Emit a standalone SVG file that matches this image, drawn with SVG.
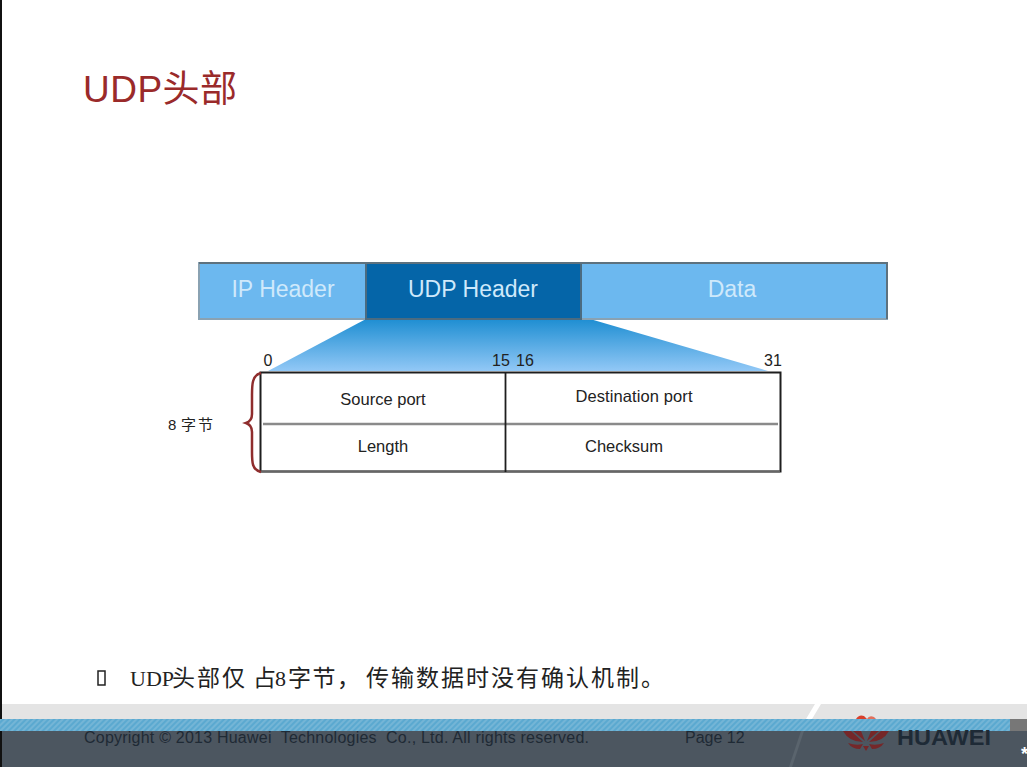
<svg xmlns="http://www.w3.org/2000/svg" width="1027" height="767" viewBox="0 0 1027 767">
<style>
text{font-family:"Liberation Sans","Noto Sans CJK SC",sans-serif}
.bar{font-size:23px;fill:#cfe9fb;text-anchor:middle}
.cell{font-size:16.500px;fill:#222;text-anchor:middle}
.num{font-size:16px;fill:#222;text-anchor:middle}
.foot{font-size:16px;fill:#1f2a35;white-space:pre}
.cjk{font-family:"Liberation Serif","Noto Sans CJK SC",serif}
.petal{fill:#752729}
</style>
<defs>
<linearGradient id="fan" x1="0" y1="0" x2="0" y2="1"><stop offset="0" stop-color="#1e8ed2"/><stop offset="1" stop-color="#92c8f6"/></linearGradient>
<pattern id="hatch" width="4" height="4" patternUnits="userSpaceOnUse" patternTransform="rotate(45)"><rect width="4" height="4" fill="#5ba9d0"/><rect width="2" height="4" fill="#74b5d6"/></pattern>
</defs>
<rect width="1027" height="767" fill="#fff"/>
<rect x="0" y="0" width="2" height="767" fill="#111"/>
<text x="83" y="102" font-size="37" fill="#9a2a2a" textLength="154" lengthAdjust="spacing">UDP头部</text>
<g id="fan-shape"><polygon points="366,319 590,319 768,371 268,371" fill="url(#fan)"/></g>
<g id="ip-header"><rect x="199" y="263" width="167" height="56" fill="#6cb8ef" stroke="#8aa2b2" stroke-width="2"/><text class="bar" x="283" y="297">IP Header</text></g>
<g id="data"><rect x="581" y="263" width="306" height="56" fill="#6cb8ef" stroke="#8aa2b2" stroke-width="2"/><text class="bar" x="732" y="297">Data</text></g>
<g id="udp-header"><rect x="366" y="263" width="215" height="56" fill="#0565a8" stroke="#4b6b80" stroke-width="2"/><text class="bar" x="473" y="297">UDP Header</text></g>
<path d="M199,263 H887 V319" fill="none" stroke="#5d717e" stroke-width="2"/>
<g id="bit-labels">
<text class="num" x="268" y="366">0</text><text class="num" x="501" y="366">15</text><text class="num" x="525" y="366">16</text><text class="num" x="773" y="366">31</text>
</g>
<g id="header-table">
<rect x="260.500" y="372.500" width="520" height="99" fill="#fff" stroke="#1e1e1e" stroke-width="2"/>
<line x1="261" y1="471.500" x2="780" y2="471.500" stroke="#666" stroke-width="2"/>
<line x1="263" y1="424" x2="778" y2="424" stroke="#8a8a8a" stroke-width="2.500"/>
<line x1="505.500" y1="372" x2="505.500" y2="472" stroke="#1e1e1e" stroke-width="1.800"/>
<text class="cell" x="383" y="405">Source port</text>
<text class="cell" x="634" y="402" textLength="117" lengthAdjust="spacing">Destination  port</text>
<text class="cell" x="383" y="452">Length</text>
<text class="cell" x="624" y="452">Checksum</text>
</g>
<g id="brace"><path d="M261,373 C252,375 252,385 252,395 L252,414 C252,420 249,422 246,423 C249,424 252,426 252,432 L252,452 C252,462 252,470 261,472" fill="none" stroke="#8f2d2d" stroke-width="2.500"/></g>
<text x="168" y="430" font-size="15" fill="#222">8 <tspan x="181" letter-spacing="2">字节</tspan></text>
<rect x="98" y="671" width="7" height="14" fill="none" stroke="#222" stroke-width="1.500"/>
<text class="cjk" y="686" font-size="23" fill="#222"><tspan x="130" font-size="22">UDP</tspan><tspan x="172" letter-spacing="2">头部仅</tspan><tspan x="253">占</tspan><tspan x="275" font-size="22">8</tspan><tspan x="288" letter-spacing="1.500">字节，</tspan><tspan x="366" letter-spacing="2">传输数据时没有确认机制。</tspan></text>
<g id="footer">
<rect x="2" y="704" width="1025" height="15" fill="#e4e4e4"/>
<rect x="2" y="731" width="1025" height="36" fill="#4c5660"/>
<polygon points="815,704 821,704 812,719 806,719" fill="#fff"/>
<polygon points="801,731 804,731 792,767 789,767" fill="#5a646d"/>
<rect x="0" y="719" width="1010" height="12" fill="url(#hatch)"/>
<rect x="1010" y="719" width="17" height="12" fill="#777"/>
<text class="foot" x="84" y="743" textLength="505" lengthAdjust="spacing">Copyright © 2013 Huawei  Technologies  Co., Ltd. All rights reserved.</text>
<text class="foot" x="685" y="743">Page 12</text>
<path d="M856,719 q3,-5 8,-3 l3,3z" fill="#d8402c"/><path d="M867,719 q2,-4 7,-2 l2,2z" fill="#e2705c"/>
<g id="logo">
<path class="petal" d="M843,731 h8 l12,11 q-14,0 -20,-11z"/>
<path class="petal" d="M853,731 h8 l4,10z"/>
<path class="petal" d="M889,731 h-8 l-12,11 q14,0 20,-11z"/>
<path class="petal" d="M879,731 h-8 l-4,10z"/>
<path class="petal" d="M848,743 q8,3 15,1 l-3,5 q-8,0 -12,-6z"/>
<path class="petal" d="M884,743 q-8,3 -15,1 l3,5 q8,0 12,-6z"/>
<path class="petal" d="M863,746 h6 l-3,5z"/>
</g>
<text x="897" y="745" font-size="22" font-weight="bold" fill="#1e2a36" textLength="94" lengthAdjust="spacingAndGlyphs">HUAWEI</text>
<text x="1021" y="760" font-size="18" font-weight="bold" fill="#fff">*</text>
</g>
</svg>
